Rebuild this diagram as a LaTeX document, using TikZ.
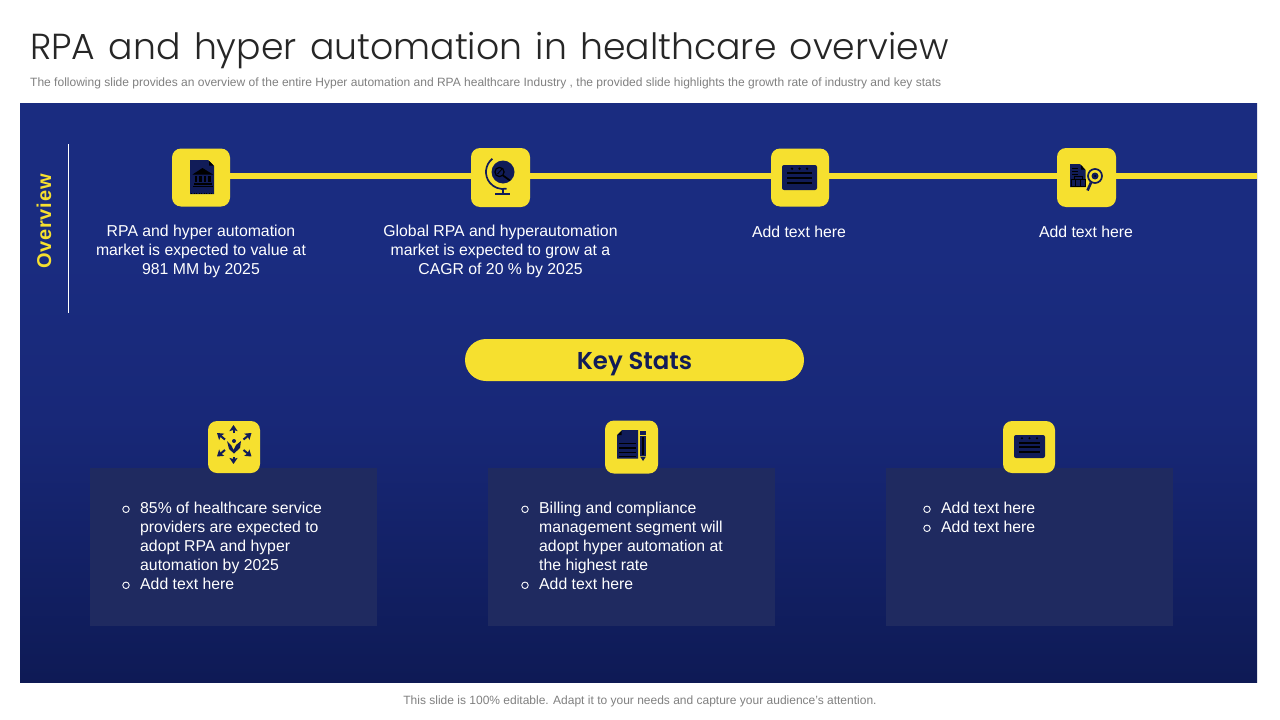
\documentclass[tikz,border=0pt]{standalone}
\usepackage{fontspec}
\setmainfont{Liberation Sans}
\newfontfamily\titlefont[LetterSpace=0.0,WordSpace=1.35]{Poppins Light}
\newfontfamily\keyfont{Poppins SemiBold}
\newfontfamily\ovfont[LetterSpace=4.0]{Liberation Sans Bold}
\definecolor{ybar}{HTML}{F6E02F}
\definecolor{navy}{HTML}{111C58}
\definecolor{bgtop}{HTML}{1A2C80}
\definecolor{bgmid}{HTML}{182878}
\definecolor{bgbot}{HTML}{0E1A55}
\definecolor{panel}{HTML}{1F2A60}
\definecolor{greytxt}{HTML}{808080}
\pgfdeclareverticalshading{bgshade}{100bp}{color(0bp)=(bgbot);color(25bp)=(bgbot);color(48bp)=(bgmid);color(62bp)=(bgtop);color(75bp)=(bgtop);color(100bp)=(bgtop)}
\usetikzlibrary{arrows.meta}
\tikzset{
  iconbox/.style={fill=ybar,rounded corners=9pt,minimum width=#1,minimum height=#1,inner sep=0pt,draw=none},
  body/.style={text=white,font=\fontsize{15.8}{19}\selectfont,align=center,inner sep=0pt},
  bullets/.style={text=white,font=\fontsize{15.8}{19}\selectfont,align=left,inner sep=0pt,anchor=north west},
  bulletdot/.style={draw=white,line width=0.9pt,circle,minimum size=6.5pt,inner sep=0pt},
  panelbox/.style={fill=panel,draw=none,minimum width=287pt,minimum height=158pt,inner sep=0pt},
  yline/.style={draw=ybar,line width=5.5pt},
  ico/.style={fill=navy,draw=none},
  arr/.style={draw=navy,line width=2pt,-{Stealth[length=6pt,width=8pt,inset=1pt]}},
}
\begin{document}
\begin{tikzpicture}[x=1pt,y=-1pt]
\useasboundingbox (0,0) rectangle (1280,720);
\fill[white] (0,0) rectangle (1280,720);
\node[anchor=base west,inner sep=0pt,text=black!85,font=\fontsize{36.2}{40}\selectfont\titlefont] (title) at (30,59.5) {RPA and hyper automation in healthcare overview};
\node[anchor=west,inner sep=0pt,text=greytxt,font=\fontsize{12.02}{13}\selectfont] (sub) at (30,83.5) {The following slide provides an overview of the entire Hyper automation and RPA healthcare Industry , the provided slide highlights the growth rate of industry and key stats};
\shade[shading=bgshade] (20,103) rectangle (1257,682);
\node[inner sep=0pt,text=greytxt,font=\fontsize{12}{14}\selectfont] (foot) at (640,701.5) {This slide is 100\% editable. Adapt it to your needs and capture your audience's attention.};
% overview
\node[rotate=90,text=ybar,inner sep=0pt,font=\fontsize{20}{22}\selectfont\ovfont] (ov) at (44,221.5) {Overview};
\coordinate (vt) at (68.5,144); \coordinate (vb) at (68.5,313);
\draw[white,line width=1pt] (vt) -- (vb);
% top row
\node[iconbox=58pt] (a) at (201,177.5) {};
\node[iconbox=59pt] (b) at (500.5,177.5) {};
\node[iconbox=58pt] (c) at (800,177.5) {};
\node[iconbox=59pt] (d) at (1086.5,177.5) {};
\coordinate (rend) at (1257,176);
\draw[yline] (a.east|-rend) -- (b.west|-rend);
\draw[yline] (b.east|-rend) -- (c.west|-rend);
\draw[yline] (c.east|-rend) -- (d.west|-rend);
\draw[yline] (d.east|-rend) -- (rend);
% icon a
\fill[ico] (190,160) -- (208,160) -- (214,166) -- (214,194) -- (190,194) -- cycle;
\fill[ybar] (209,161) -- (213.5,165.5) -- (209,165.5) -- cycle;
\foreach \x in {191,193.5,...,213} \fill[ybar] (\x,193.4) rectangle +(1,0.7);
\fill[ybar] (202.5,168) -- (213,174.5) -- (192.5,174.5) -- cycle;
\foreach \x in {194.5,199,203.5,208} \fill[ybar] (\x,175.5) rectangle +(2.6,6.5);
\fill[ybar] (193.5,183) rectangle (211.5,184.5);
\fill[ybar] (192.5,185.5) rectangle (212.5,187);
% icon b
\draw[navy,line width=1.7pt] (503,172)++(231:17) arc (231:78:17);
\fill[ico] (503,172) circle (11.5);
\draw[ybar,line width=1.2pt] (499.5,172) circle (4.6);
\draw[ybar,line width=1.7pt] (503,175.5) -- (510,180.5);
\draw[ybar,line width=0.9pt] (497.5,174) -- (502,169);
\draw[navy,line width=1.6pt] (503,189) -- (503,193);
\fill[ico] (495,193) rectangle (510,194.5);
% icon c
\fill[ico,rounded corners=2pt] (782,165) rectangle (817,190);
\foreach \x in {792,799.5,807} \fill[ybar] (\x,168.7) circle (1.3);
\foreach \y in {172,177,181.5} \fill[ybar] (787,\y) rectangle (812,\y+2);
% icon d
\fill[ico] (1070,164) -- (1080,164) -- (1085.5,170) -- (1085.5,187) -- (1070,187) -- cycle;
\fill[ybar] (1081,165) -- (1085,169.5) -- (1081,169.5) -- cycle;
\foreach \y in {168,171,174} \fill[ybar] (1071.5,\y) rectangle (1078,\y+0.9);
\draw[ybar,line width=0.8pt] (1071,186) rectangle (1085,179);
\draw[ybar,line width=0.8pt] (1075.5,186) -- (1075.5,179) (1080.5,186) -- (1080.5,179) (1074,179) -- (1074,176) -- (1082,176) -- (1082,179);
\draw[navy,line width=1.7pt] (1095,176) circle (7);
\fill[ico] (1095,176) circle (3.5);
\fill[ybar] (1095,176) circle (1);
\draw[navy,line width=2.6pt] (1091,182.5) -- (1087.5,190.5);
% top texts
\node[body] (ta) at (201,251) {RPA and hyper automation\\market is expected to value at\\981 MM by 2025};
\node[body] (tb) at (500.5,251) {Global RPA and hyperautomation\\market is expected to grow at a\\CAGR of 20 \% by 2025};
\node[body] (tc) at (799,232) {Add text here};
\node[body] (td) at (1086,232) {Add text here};
% key stats
\node[fill=ybar,rounded corners=21pt,minimum width=339pt,minimum height=42pt,inner sep=0pt] (ks) at (634.5,360) {};
\node[anchor=base,text=navy,inner sep=0pt,font=\fontsize{24.4}{28}\selectfont\keyfont] (kst) at (634.5,369.5) {Key Stats};
% panels
\node[panelbox] (p1) at (233.5,547) {};
\node[panelbox] (p2) at (631.5,547) {};
\node[panelbox] (p3) at (1029.5,547) {};
\node[iconbox=52pt] (i1) at (234,447) {};
\node[iconbox=53pt] (i2) at (631.5,447) {};
\node[iconbox=52pt] (i3) at (1029,447) {};
% i1 arrows
\coordinate (q1) at (233.5,433); \coordinate (Q1) at (233.5,425);
\coordinate (q2) at (243.5,439.5); \coordinate (Q2) at (251.5,433);
\coordinate (q3) at (243.5,450); \coordinate (Q3) at (251.5,456.5);
\coordinate (q4) at (233.5,457); \coordinate (Q4) at (233.5,464);
\coordinate (q5) at (225,450); \coordinate (Q5) at (217,456.5);
\coordinate (q6) at (225,439.5); \coordinate (Q6) at (217,433);
\foreach \k in {1,...,6} \draw[arr] (q\k) -- (Q\k);
\fill[ico] (234,441) circle (2);
\fill[ico] (227,441) -- (231,445) -- (233.5,450) -- (236,445) -- (241,441) -- (240,448) -- (234,453.5) -- (229,449) -- cycle;
% i2
\fill[ico] (622,430) -- (638,430) -- (638,458.5) -- (617,458.5) -- (617,435) -- cycle;
\fill[ybar] (617.6,435) -- (621.6,431) -- (621.6,435) -- cycle;
\foreach \y in {442.5,447,451.5,455.5} \fill[ybar] (619,\y) rectangle (636,\y+1.5);
\fill[ico] (640,430.5) rectangle (646,434.5);
\fill[ico] (640,435.5) rectangle (646,456);
\fill[ybar] (642.4,437) rectangle (643.6,455);
\fill[ico] (640,456.5) -- (646,456.5) -- (643,461) -- cycle;
% i3
\fill[ico,rounded corners=2pt] (1014,435) rectangle (1045,458);
\foreach \x in {1022,1029.5,1037} \fill[ybar] (\x,438.3) circle (1.1);
\foreach \y in {442.2,446.3,450.5} \fill[ybar] (1019,\y) rectangle (1040,\y+2);
% panel texts
\node[bullets] (t1) at (140,501.5) {85\% of healthcare service\\providers are expected to\\adopt RPA and hyper\\automation by 2025\\Add text here};
\node[bullets] (t2) at (539,501.5) {Billing and compliance\\management segment will\\adopt hyper automation at\\the highest rate\\Add text here};
\node[bullets] (t3) at (941,501.5) {Add text here\\Add text here};
\node[bulletdot] (b11) at (126,509.3) {};
\node[bulletdot] (b12) at (126,585.3) {};
\node[bulletdot] (b21) at (525,509.3) {};
\node[bulletdot] (b22) at (525,585.3) {};
\node[bulletdot] (b31) at (927,509.3) {};
\node[bulletdot] (b32) at (927,528.3) {};
\end{tikzpicture}
\end{document}
